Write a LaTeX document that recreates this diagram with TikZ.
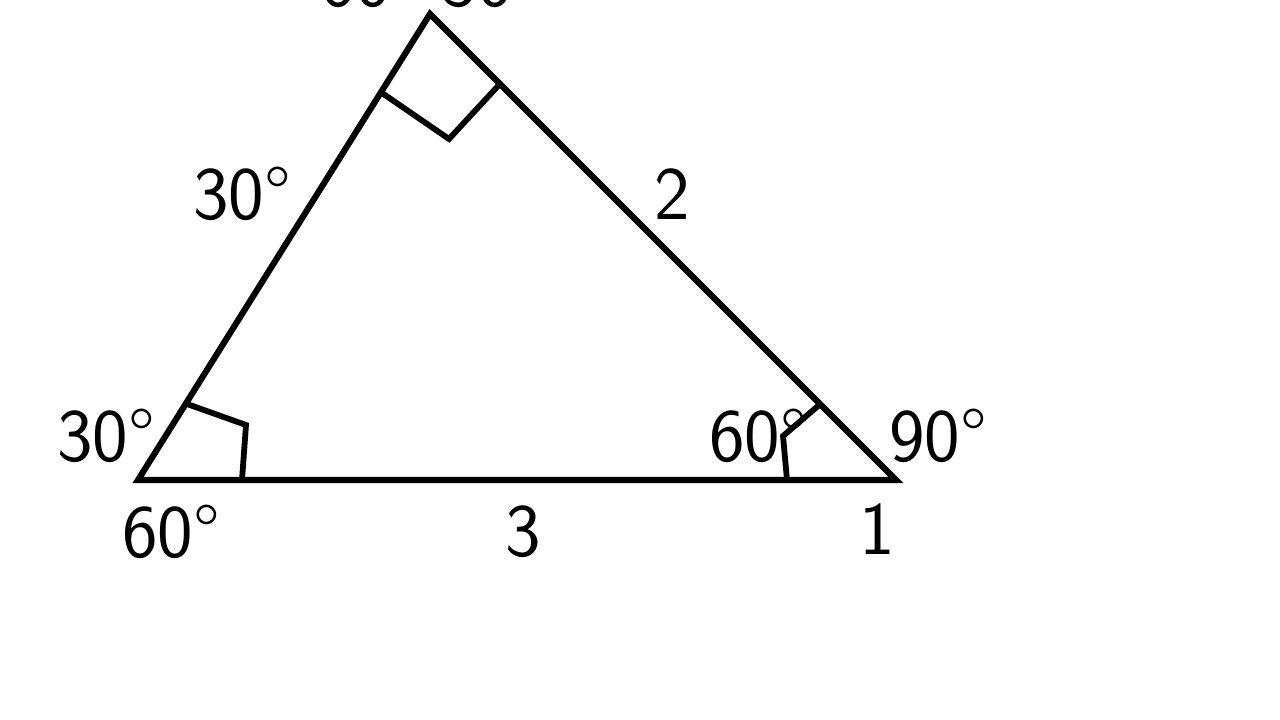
\documentclass[tikz,border=0pt]{standalone}
\usepackage{fontspec}
\usepackage{tikz}
\usetikzlibrary{calc}
\usetikzlibrary{positioning}
\newcommand{\edgeColor}{black}
\tikzset{edge/.style = {\edgeColor, line width=1.75pt, line join=miter}}
\tikzset{anglemark/.style = {\edgeColor, line width=1.65pt}}
\tikzset{lbl/.style = {inner sep=0pt, anchor=base, font=\sffamily\fontsize{21.5}{26}\selectfont}}

\begin{document}
\begin{tikzpicture}
                    \useasboundingbox (0,0) rectangle (12.8,7.2);
                    \coordinate (A) at (1.38,2.40);
                    \coordinate (B) at (4.30,7.06);
                    \coordinate (C) at (8.96,2.40);

                    \draw[edge] (A) -- (B) -- (C) -- cycle;

                    % angle marks
                    \draw[anglemark] (3.82,6.27) -- (4.49,5.81) -- (4.98,6.34);
                    \draw[anglemark] (1.87,3.16) -- (2.46,2.95) -- (2.42,2.40);
                    \draw[anglemark] (7.87,2.40) -- (7.83,2.84) -- (8.18,3.14);

                    \node[lbl] (ab) at (2.42,5.00) {30°};
                    \node[lbl] (bc) at (6.72,5.00) {2};
                    \node[lbl] (a1) at (1.06,2.58) {30°};
                    \node[lbl] (a2) at (1.71,1.62) {60°};
                    \node[lbl] (ac) at (5.23,1.63) {3};
                    \node[lbl] (c1) at (7.58,2.58) {60°};
                    \node[lbl] (c2) at (9.38,2.58) {90°};
                    \node[lbl] (c3) at (8.77,1.65) {1};
                    % only the lower edge of this text is inside the frame
                    \node[lbl] (top) at (4.30,7.13) {60° 30°};
                \end{tikzpicture}
\end{document}
